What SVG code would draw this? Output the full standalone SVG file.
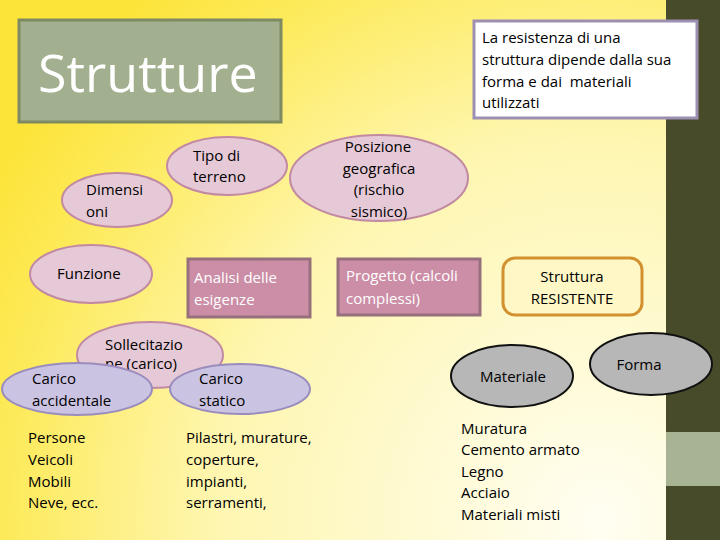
<svg xmlns="http://www.w3.org/2000/svg" width="720" height="540" viewBox="0 0 720 540">
<defs>
<radialGradient id="bg" gradientUnits="userSpaceOnUse" cx="600" cy="520" r="700" fx="600" fy="520">
<stop offset="0" stop-color="#fffef2"/>
<stop offset="0.55" stop-color="#fef6b0"/>
<stop offset="0.85" stop-color="#fdea5a"/>
<stop offset="1" stop-color="#fce438"/>
</radialGradient>
<style>
text{font-family:"Open Sans","Noto Sans","DejaVu Sans",sans-serif;font-size:15px;fill:#000}
.pink{fill:#e6c9d6;stroke:#c28aa2;stroke-width:2}
.lav{fill:#cbc3e2;stroke:#9a8dbd;stroke-width:2}
.gray{fill:#b7b7b7;stroke:#111;stroke-width:2}
.rose{fill:#cc8ea6;stroke:#96707c;stroke-width:3}
.w{fill:#fff}
.c{text-anchor:middle}
</style>
</defs>
<rect width="720" height="540" fill="url(#bg)"/>
<rect x="666" y="0" width="54" height="540" fill="#474b2a"/>
<rect x="666" y="432" width="54" height="54" fill="#a7b392"/>

<g id="title">
<rect x="19" y="20" width="262" height="102" fill="#a3b08f" stroke="#7e8a62" stroke-width="3"/>
<text x="38" y="92" style="font-size:52px;fill:#fff">Strutture</text>
</g>

<g id="note">
<rect x="474" y="21" width="223" height="97" fill="#fff" stroke="#9d8fb2" stroke-width="3"/>
<text x="482" y="43">La resistenza di una</text>
<text x="482" y="65">struttura dipende dalla sua</text>
<text x="482" y="87">forma e dai &#160;materiali</text>
<text x="482" y="108">utilizzati</text>
</g>

<g id="connectors"/>

<g id="dimensioni">
<ellipse class="pink" cx="117" cy="200" rx="55" ry="27"/>
<text x="86" y="195">Dimensi</text>
<text x="86" y="217">oni</text>
</g>

<g id="tipo-terreno">
<ellipse class="pink" cx="227" cy="166" rx="60" ry="29"/>
<text x="193" y="161">Tipo di</text>
<text x="193" y="182">terreno</text>
</g>

<g id="posizione">
<ellipse class="pink" cx="379" cy="178" rx="89" ry="43"/>
<text class="c" x="378" y="152">Posizione</text>
<text class="c" x="379" y="174">geografica</text>
<text class="c" x="379" y="195">(rischio</text>
<text class="c" x="379" y="217">sismico)</text>
</g>

<g id="funzione">
<ellipse class="pink" cx="91" cy="274" rx="61" ry="29"/>
<text x="57" y="279">Funzione</text>
</g>

<g id="analisi">
<rect class="rose" x="188" y="259" width="122" height="58"/>
<text class="w" x="194" y="283">Analisi delle</text>
<text class="w" x="194" y="305">esigenze</text>
</g>

<g id="progetto">
<rect class="rose" x="338" y="259" width="142" height="56"/>
<text class="w" x="346" y="281">Progetto (calcoli</text>
<text class="w" x="346" y="304">complessi)</text>
</g>

<g id="struttura-resistente">
<rect x="503" y="258" width="139" height="57" rx="12" fill="#fff8c6" stroke="#d2912e" stroke-width="3"/>
<text class="c" x="572" y="282">Struttura</text>
<text class="c" x="572" y="304">RESISTENTE</text>
</g>

<g id="sollecitazione">
<ellipse class="pink" cx="150" cy="355" rx="73" ry="33"/>
<text x="105" y="350">Sollecitazio</text>
<text x="105" y="369">ne (carico)</text>
</g>

<g id="carico-accidentale">
<ellipse class="lav" cx="77" cy="389" rx="75" ry="26"/>
<text x="32" y="384">Carico</text>
<text x="32" y="406">accidentale</text>
</g>

<g id="carico-statico">
<ellipse class="lav" cx="240" cy="389" rx="70" ry="25"/>
<text x="199" y="384">Carico</text>
<text x="199" y="406">statico</text>
</g>

<g id="materiale">
<ellipse class="gray" cx="512" cy="376" rx="61" ry="31"/>
<text class="c" x="513" y="382">Materiale</text>
</g>

<g id="forma">
<ellipse class="gray" cx="651" cy="364" rx="61" ry="31"/>
<text class="c" x="639" y="370">Forma</text>
</g>

<g id="lista-accidentale">
<text x="28" y="443">Persone</text>
<text x="28" y="465">Veicoli</text>
<text x="28" y="487">Mobili</text>
<text x="28" y="508">Neve, ecc.</text>
</g>

<g id="lista-statico">
<text x="186" y="443">Pilastri, murature,</text>
<text x="186" y="465">coperture,</text>
<text x="186" y="487">impianti,</text>
<text x="186" y="508">serramenti,</text>
</g>

<g id="lista-materiali">
<text x="461" y="434">Muratura</text>
<text x="461" y="455">Cemento armato</text>
<text x="461" y="477">Legno</text>
<text x="461" y="498">Acciaio</text>
<text x="461" y="520">Materiali misti</text>
</g>
</svg>
